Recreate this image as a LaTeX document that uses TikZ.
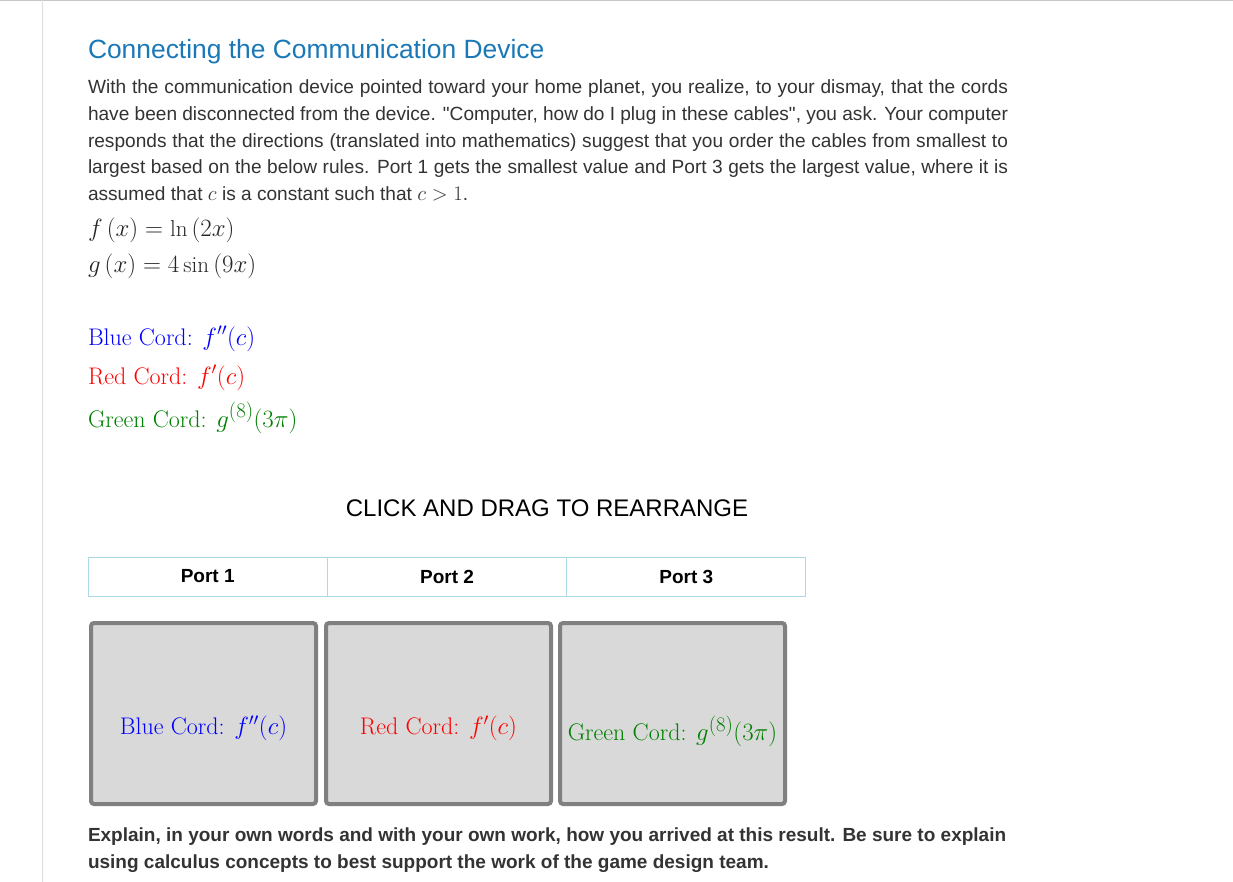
\documentclass[tikz,border=0pt]{standalone}
\usepackage{fontspec}
\newfontfamily\arial{Liberation Sans}
\usetikzlibrary{positioning}

\definecolor{titleblue}{HTML}{1B78B6}
\definecolor{bodygray}{HTML}{333333}
\definecolor{cellblue}{HTML}{ADD8E6}
\definecolor{boxfill}{HTML}{D9D9D9}
\definecolor{boxline}{HTML}{808080}
\definecolor{cordgreen}{HTML}{008000}

\newcommand{\eightsup}{\mbox{\fontsize{20.74}{21}\selectfont$(8)$}}

\begin{document}
\begin{tikzpicture}[x=1pt, y=-1pt]
\tikzstyle{every node}=[inner sep=0pt, outer sep=0pt]
\tikzstyle{bodytext}=[anchor=north west, align=justify, text width=920pt, text=bodygray, font=\arial\fontsize{19.1}{26.6}\selectfont]
\tikzstyle{formula}=[anchor=base west, text=black!85, font=\fontsize{23}{27}\selectfont]
\tikzstyle{cordtext}=[font=\fontsize{24}{28}\selectfont]
\tikzstyle{portcell}=[draw=cellblue, line width=1pt, minimum width=239.3pt, minimum height=39pt, font=\arial\bfseries\fontsize{19}{22}\selectfont]
\tikzstyle{cordbox}=[draw=boxline, fill=boxfill, line width=4pt, rounded corners=3pt, minimum width=225pt, minimum height=181pt]

\useasboundingbox (0,0) rectangle (1233,882);
\fill[white] (0,0) rectangle (1233,882);
\draw[color=black!22, line width=1pt] (0,0.5) -- (1233,0.5);
\draw[color=black!13, line width=1pt] (42.5,0) -- (42.5,882);

\node[anchor=base west, text=titleblue, font=\arial\fontsize{26.4}{30}\selectfont] at (88,59) (title) {Connecting the Communication Device};

\node[bodytext] at (88,80) (intro) {With the communication device pointed toward your home planet, you realize, to your dismay, that the cords\linebreak
have been disconnected from the device. "Computer, how do I plug in these cables", you ask. Your computer\linebreak
responds that the directions (translated into mathematics) suggest that you order the cables from smallest to\linebreak
largest based on the below rules. Port 1 gets the smallest value and Port 3 gets the largest value, where it is\linebreak
assumed that $c$ is a constant such that $c>1$.};

\node[formula] at (88,237) (fdef) {$f\left(x\right)=\ln\left(2x\right)$};
\node[formula] at (88,273) (gdef) {$g\left(x\right)=4\sin\left(9x\right)$};

\node[cordtext, anchor=base west, text=blue] at (88,345) (bluerule) {Blue Cord: $f''(c)$};
\node[cordtext, anchor=base west, text=red] at (88,384) (redrule) {Red Cord: $f'(c)$};
\node[cordtext, anchor=base west, text=cordgreen] at (88,427) (greenrule) {Green Cord: $g^{\eightsup}(3\pi)$};

\node[anchor=base, font=\arial\fontsize{24}{28}\selectfont] at (547,516) (hint) {CLICK AND DRAG TO REARRANGE};

\node[portcell] at (207.7,576.5) (port1) {Port 1};
\node[portcell, right=0pt of port1] (port2) {Port 2};
\node[portcell, right=0pt of port2] (port3) {Port 3};

\node[cordbox] at (203.5,713.5) (box1) {};
\node[cordbox] at (438.5,713.5) (box2) {};
\node[cordbox] at (672.5,713.5) (box3) {};
\node[cordtext, text=blue] at ([yshift=-15pt]box1.center) (bluecord) {Blue Cord: $f''(c)$};
\node[cordtext, text=red] at ([yshift=-15pt]box2.center) (redcord) {Red Cord: $f'(c)$};
\node[cordtext, text=cordgreen] at ([yshift=-18pt]box3.center) (greencord) {Green Cord: $g^{\eightsup}(3\pi)$};

\node[bodytext, align=left, text width=, font=\arial\bfseries\fontsize{19}{27}\selectfont] at (88,828) (explain) {Explain, in your own words and with your own work, how you arrived at this result. Be sure to explain\\
using calculus concepts to best support the work of the game design team.};
\end{tikzpicture}
\end{document}
